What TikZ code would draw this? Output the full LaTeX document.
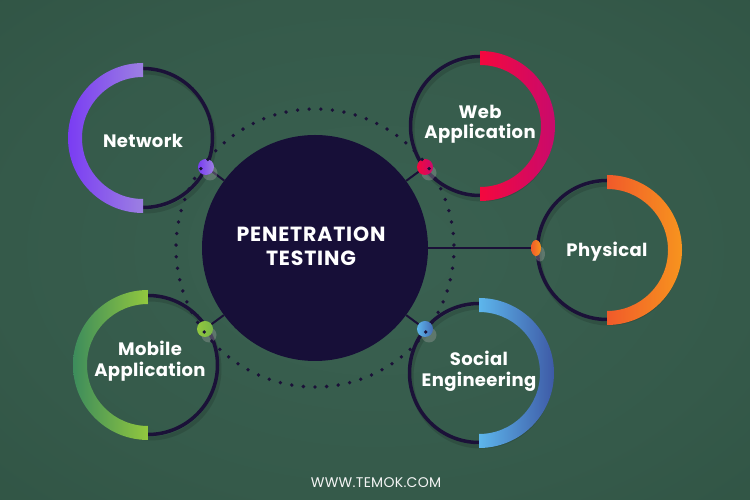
\documentclass[tikz,border=0pt]{standalone}
\usepackage{fontspec}
\usetikzlibrary{shapes.geometric}
\setmainfont{Poppins}
\newfontfamily\hubfont{Poppins}[LetterSpace=4]
\newfontfamily\labfont{Poppins}[LetterSpace=2]
\newfontfamily\footfont{Poppins}[LetterSpace=2]
\definecolor{bgin}{HTML}{3A6151}
\definecolor{bgmid}{HTML}{355A4A}
\definecolor{bgout}{HTML}{2D4F40}
\definecolor{ringdark}{HTML}{1B1138}
\definecolor{hubc}{HTML}{170F38}
\definecolor{netA}{HTML}{7A3CF3}\definecolor{netB}{HTML}{9C80E2}
\definecolor{webA}{HTML}{F4083E}\definecolor{webB}{HTML}{C90A6C}
\definecolor{phyA}{HTML}{F15A2A}\definecolor{phyB}{HTML}{F7941E}
\definecolor{socA}{HTML}{5DB6EC}\definecolor{socB}{HTML}{3E5AA6}
\definecolor{mobA}{HTML}{3D8C5C}\definecolor{mobB}{HTML}{92C83E}
\pgfdeclareradialshading{bgshade}{\pgfpoint{0bp}{0bp}}{color(0bp)=(bgin); color(25bp)=(bgmid); color(50bp)=(bgout)}
\tikzset{
  ringnode/.style={circle, draw=ringdark, line width=3.5pt, minimum size=139pt, inner sep=0pt},
  labeltext/.style={text=white, align=center, inner sep=0pt, font=\labfont\bfseries\fontsize{18}{20.5}\selectfont},
  ringshadow/.style={draw=black, opacity=0.12, line width=4pt},
  spoke/.style={draw=ringdark, line width=2pt},
  dotnode/.style={circle, minimum size=16pt, inner sep=0pt},
  dotshadow/.style={fill=gray!70, opacity=0.35},
  dotc/.style={fill=ringdark}
}
\begin{document}
\begin{tikzpicture}[x=1pt,y=1pt]
\useasboundingbox (0,0) rectangle (750,500);
\shade[shading=bgshade] (0,0) rectangle (750,500);

% ring shadows
\foreach \p in {(143,362),(480,374),(607,250),(479,127),(148,135)}{
  \draw[ringshadow] \p ++(2,-4) circle[radius=69.5];
}

% ring nodes
\node[ringnode] (net) at (143,362) {};
\node[ringnode] (web) at (480,374) {};
\node[ringnode] (phy) at (607,250) {};
\node[ringnode] (soc) at (479,127) {};
\node[ringnode] (mob) at (148,135) {};

% labels
\node[labeltext] (netl) at ([yshift=-3]net.center) {Network};
\node[labeltext] (webl) at ([yshift=2]web.center) {Web\\Application};
\node[labeltext] (phyl) at ([yshift=-2]phy.center) {Physical};
\node[labeltext] (socl) at ([yshift=1.5]soc.center) {Social\\Engineering};
\node[labeltext] (mobl) at ([xshift=2,yshift=4]mob.center) {Mobile\\Application};

% coloured half arcs
\shade[left color=netA, right color=netB] (net.center) ++(0,75) arc[start angle=90, end angle=270, radius=75] -- ++(0,14) arc[start angle=270, end angle=90, radius=61] -- cycle;
\shade[left color=mobA, right color=mobB] (mob.center) ++(0,75) arc[start angle=90, end angle=270, radius=75] -- ++(0,14) arc[start angle=270, end angle=90, radius=61] -- cycle;
\shade[left color=webA, right color=webB] (web.center) ++(0,75) arc[start angle=90, end angle=-90, radius=75] -- ++(0,14) arc[start angle=-90, end angle=90, radius=61] -- cycle;
\shade[left color=phyA, right color=phyB] (phy.center) ++(0,75) arc[start angle=90, end angle=-90, radius=75] -- ++(0,14) arc[start angle=-90, end angle=90, radius=61] -- cycle;
\shade[left color=socA, right color=socB] (soc.center) ++(0,75) arc[start angle=90, end angle=-90, radius=75] -- ++(0,14) arc[start angle=-90, end angle=90, radius=61] -- cycle;

% hub
\node[circle, fill=hubc, minimum size=226pt, inner sep=0pt] (hub) at (315,252) {};
\node[text=white, align=center, inner sep=0pt,
  font=\hubfont\bfseries\fontsize{20.5}{24}\selectfont] (hubl) at ([xshift=-4,yshift=2]hub.center) {PENETRATION\\TESTING};

% dot positions
\coordinate (pnet) at (206,333);
\coordinate (pweb) at (425,333);
\coordinate (pphy) at (536,252);
\coordinate (psoc) at (425,171);
\coordinate (pmob) at (205,171);

% spokes
\draw[spoke] (hub) -- (pnet);
\draw[spoke] (hub) -- (pweb);
\draw[spoke] (hub) -- (pphy);
\draw[spoke] (hub) -- (psoc);
\draw[spoke] (hub) -- (pmob);

% dot shadows
\foreach \q in {pnet,pweb,psoc,pmob}{
  \fill[dotshadow] (\q) ++(4,-6) circle[radius=7.5];
}
\fill[dotshadow] (pphy) ++(4,-6) ellipse[x radius=5, y radius=7.5];

% dots
\node[dotnode, left color=netA, right color=netB] (dnet) at (pnet) {};
\node[dotnode, left color=webA, right color=webB] (dweb) at (pweb) {};
\node[dotnode, left color=socA, right color=socB!80!socA] (dsoc) at (psoc) {};
\node[dotnode, left color=mobB, right color=mobB!70!mobA] (dmob) at (pmob) {};
\node[ellipse, minimum width=10pt, minimum height=16pt, inner sep=0pt, left color=phyA, right color=phyB] (dphy) at (pphy) {};

% dotted circle
\foreach \k in {0,...,74}{
  \fill[dotc] (hub.center) ++({92.4+4.8*\k}:139) circle[radius=1.9];
}

% footer
\node[text=white!92!gray, font=\footfont\fontsize{14}{16}\selectfont] (foot) at (376,17) {WWW.TEMOK.COM};
\end{tikzpicture}
\end{document}
